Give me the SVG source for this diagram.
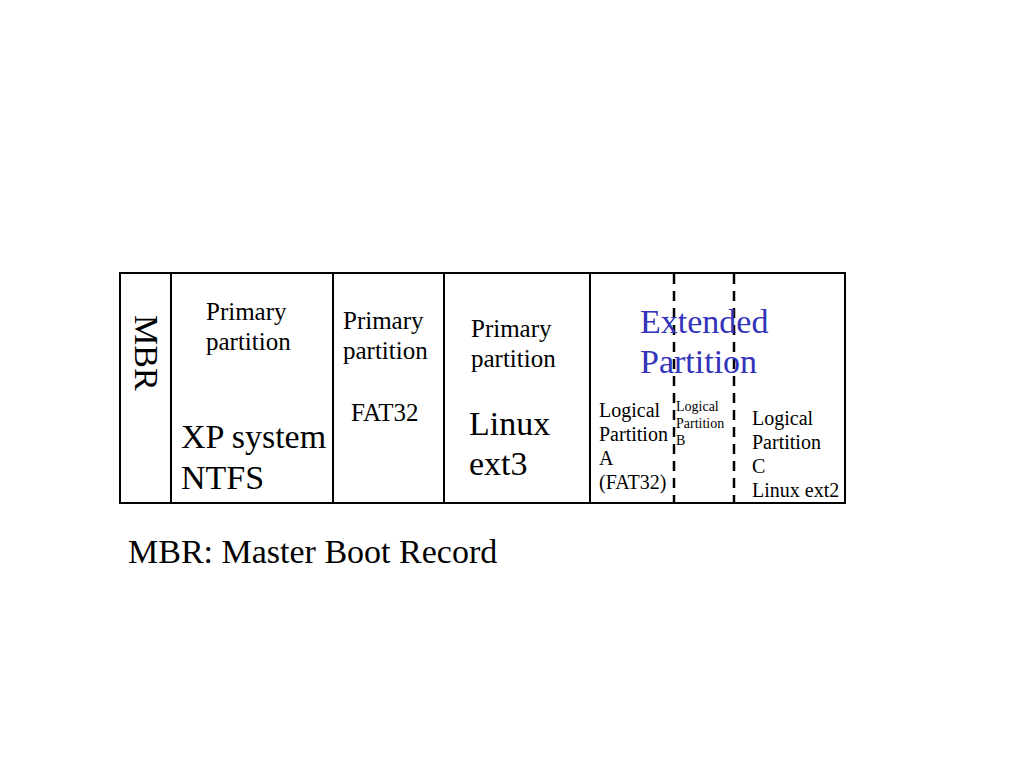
<svg xmlns="http://www.w3.org/2000/svg" width="1024" height="768" viewBox="0 0 1024 768">
<style>
text{font-family:"Liberation Serif","Times New Roman",serif;fill:#000}
.s{font-size:25px}.b{font-size:34px}.m{font-size:20px}.t{font-size:14px}
.ln{stroke:#000;stroke-width:2;fill:none}
.d{stroke:#000;stroke-width:2.5;stroke-dasharray:10,7}
</style>
<rect width="1024" height="768" fill="#fff"/>
<g id="disk"><rect class="ln" x="120" y="273" width="725" height="230"/></g>
<g id="connectors">
<line class="ln" x1="171" y1="273" x2="171" y2="503"/>
<line class="ln" x1="333" y1="273" x2="333" y2="503"/>
<line class="ln" x1="444" y1="273" x2="444" y2="503"/>
<line class="ln" x1="590" y1="273" x2="590" y2="503"/>
<line class="d" x1="674" y1="274" x2="674" y2="502"/>
<line class="d" x1="734" y1="274" x2="734" y2="502"/>
</g>
<g id="mbr"><text class="b" transform="translate(135,315) rotate(90)">MBR</text></g>
<g id="p1"><text class="s" x="206" y="320">Primary</text><text class="s" x="206" y="350">partition</text>
<text class="b" x="181" y="448">XP system</text><text class="b" x="181" y="489">NTFS</text></g>
<g id="p2"><text class="s" x="343" y="329">Primary</text><text class="s" x="343" y="359">partition</text>
<text class="s" x="351" y="421">FAT32</text></g>
<g id="p3"><text class="s" x="471" y="337">Primary</text><text class="s" x="471" y="367">partition</text>
<text class="b" x="469" y="435">Linux</text><text class="b" x="469" y="475">ext3</text></g>
<g id="ext"><text class="b" x="640" y="333" style="fill:#3333bb">Extended</text><text class="b" x="640" y="373" style="fill:#3333bb">Partition</text></g>
<g id="la"><text class="m" x="599" y="417">Logical</text><text class="m" x="599" y="441">Partition</text><text class="m" x="599" y="465">A</text><text class="m" x="599" y="489">(FAT32)</text></g>
<g id="lb"><text class="t" x="676" y="411">Logical</text><text class="t" x="676" y="428">Partition</text><text class="t" x="676" y="445">B</text></g>
<g id="lc"><text class="m" x="752" y="425">Logical</text><text class="m" x="752" y="449">Partition</text><text class="m" x="752" y="473">C</text><text class="m" x="752" y="497">Linux ext2</text></g>
<g id="caption"><text class="b" x="128" y="563">MBR: Master Boot Record</text></g>
</svg>
